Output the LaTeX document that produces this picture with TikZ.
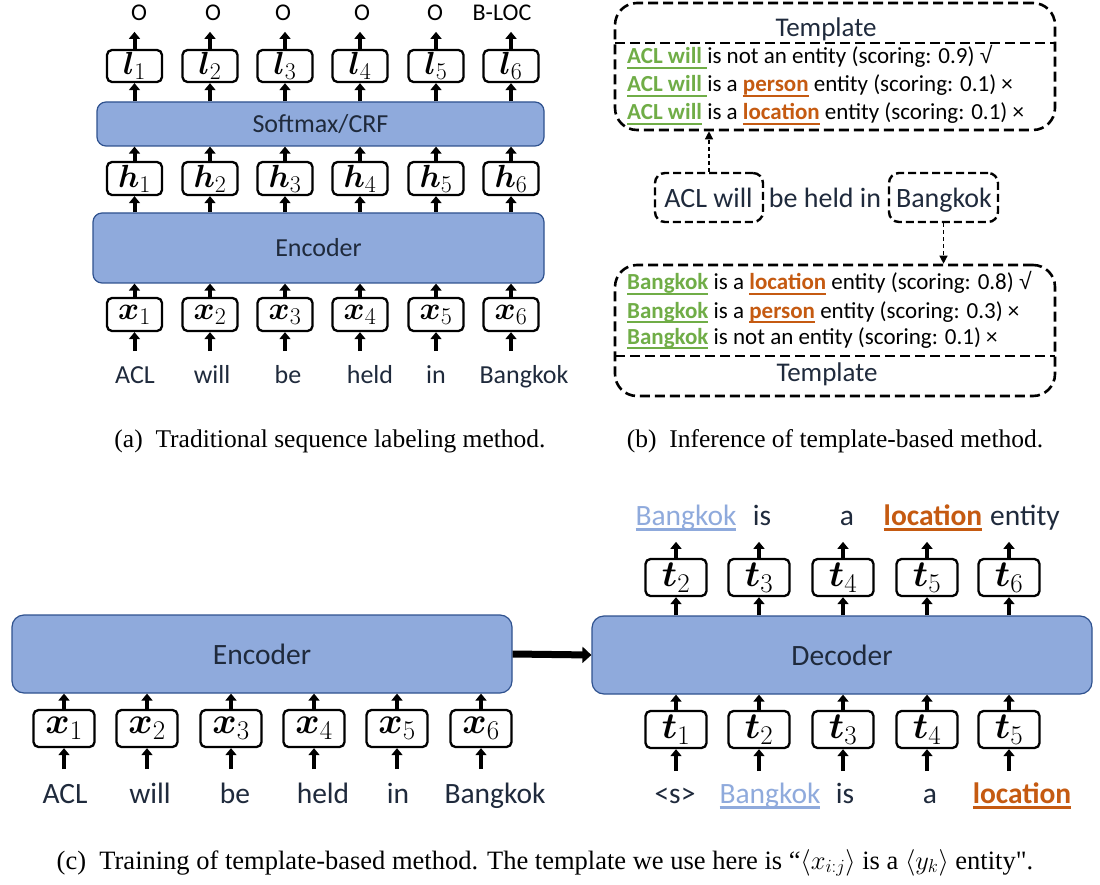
\RequirePackage{fix-cm}
\documentclass[tikz,border=0pt]{standalone}
\usepackage{amsmath,bm}
\usepackage{fontspec}
\setmainfont{Liberation Serif}
\newfontfamily\calf{Carlito}
\newfontfamily\symf{Liberation Sans}
\usetikzlibrary{arrows.meta}
\DeclareMathSizes{32}{32}{24}{18}
\DeclareMathSizes{37}{37}{27}{20}
\definecolor{bfill}{HTML}{8FAADC}
\definecolor{bline}{HTML}{2F528F}
\definecolor{grn}{HTML}{70AD47}
\definecolor{org}{HTML}{C55A11}
\definecolor{txt}{HTML}{1F2A3C}
\definecolor{lblue}{HTML}{8FAADC}
\newcommand{\ulc}[2]{{\color{#1}\setbox0=\hbox{#2}\rlap{\rule[-0.2em]{\wd0}{0.09em}}\box0}}
\begin{document}
\begin{tikzpicture}[x=1pt,y=-1pt,
  blk/.style={draw=bline, fill=bfill, line width=1.2pt, rounded corners=9pt, inner sep=0pt},
  tok/.style={draw=black, line width=2.3pt, rounded corners=5pt, fill=white, inner sep=0pt,
    minimum width=55pt, minimum height=32pt, font=\fontsize{32}{36}\selectfont},
  tokc/.style={tok, minimum width=61pt, minimum height=37pt, font=\fontsize{37}{40}\selectfont},
  arr/.style={line width=4pt, -{Triangle[length=7pt,width=11pt]}},
  bigarr/.style={line width=7pt, -{Triangle[length=9pt,width=16pt]}},
  dbox/.style={draw=black, line width=2.6pt, dash pattern=on 10pt off 5pt, inner sep=0pt},
  dline/.style={draw=black, line width=2.6pt, dash pattern=on 10pt off 5pt},
  darr/.style={line width=1.3pt, dash pattern=on 4pt off 3pt, -{Triangle[length=8pt,width=8pt]}},
  fa/.style={font=\calf\fontsize{26}{30}\selectfont, text=txt, inner sep=0pt, anchor=base},
  flab/.style={font=\calf\fontsize{24}{28}\selectfont, text=black, inner sep=0pt, anchor=base},
  fb/.style={font=\calf\fontsize{23}{27}\selectfont, text=black, inner sep=0pt, anchor=base west},
  ftpl/.style={font=\calf\fontsize{27}{32}\selectfont, text=txt, inner sep=0pt, anchor=base},
  fsen/.style={font=\calf\fontsize{28}{33}\selectfont, text=txt, inner sep=0pt, anchor=base},
  fc/.style={font=\calf\fontsize{29.5}{34}\selectfont, text=txt, inner sep=0pt, anchor=base},
  capt/.style={font=\fontsize{25.5}{30}\selectfont, text=black, inner sep=0pt, anchor=base}
]
\useasboundingbox (0,0) rectangle (1100,885);

% ---------------- (a) ----------------
\node[blk, minimum width=447pt, minimum height=44pt] (smx) at (320.5,124)
  {\calf\fontsize{26}{30}\selectfont\color{txt}Softmax/CRF};
\node[blk, minimum width=451pt, minimum height=70pt] (enca) at (318.5,248)
  {\calf\fontsize{26}{30}\selectfont\color{txt}Encoder};
\foreach \i/\xx in {1/134.5,2/210,3/285,4/360,5/436,6/511}{
  \node[tok] (l\i) at (\xx,66) {$\boldsymbol{l}_{\i}$};
  \node[tok, minimum height=33pt] (h\i) at (\xx,178.5) {$\boldsymbol{h}_{\i}$};
  \node[tok, minimum height=33pt] (xa\i) at (\xx,314.5) {$\boldsymbol{x}_{\i}$};
  \draw[arr] (l\i.north) -- ([yshift=17pt]l\i.north);
  \draw[arr] (l\i.south |- smx.north) -- (l\i.south);
  \draw[arr] (h\i.north) -- (h\i.north |- smx.south);
  \draw[arr] (h\i.south |- enca.north) -- (h\i.south);
  \draw[arr] (xa\i.north) -- (xa\i.north |- enca.south);
  \draw[arr] ([yshift=-19pt]xa\i.south) -- (xa\i.south);
}
\node[flab] (o1) at (139,21) {O};
\node[flab] (o2) at (213,21) {O};
\node[flab] (o3) at (283,21) {O};
\node[flab] (o4) at (362,21) {O};
\node[flab] (o5) at (435,21) {O};
\node[flab] (o6) at (502,21) {B-LOC};
\node[fa] (wa1) at (135,383) {ACL};
\node[fa] (wa2) at (212,383) {will};
\node[fa] (wa3) at (288,383) {be};
\node[fa] (wa4) at (370,383) {held};
\node[fa] (wa5) at (436,383) {in};
\node[fa] (wa6) at (524,383) {Bangkok};
\node[capt] (capa) at (330,447) {(a)\enspace Traditional sequence labeling method.};

% ---------------- (b) ----------------
\node[dbox, rounded corners=22pt, minimum width=440pt, minimum height=127pt] (tb) at (835,66.5) {};
\coordinate (tbl) at (615,43); \coordinate (tbr) at (1055,43);
\draw[dline] (tbl) -- (tbr);
\node[ftpl] (tplt) at (826,37) {Template};
\node[fb] (tl1) at (627,64) {\ulc{grn}{\bfseries ACL will }is not an entity (scoring: 0.9) {\symf √}};
\node[fb] (tl2) at (627,92) {\ulc{grn}{\bfseries ACL will }is a \ulc{org}{\bfseries person} entity (scoring: 0.1) ×};
\node[fb] (tl3) at (627,120) {\ulc{grn}{\bfseries ACL will} is a \ulc{org}{\bfseries location} entity (scoring: 0.1) ×};

\node[dbox, rounded corners=10pt, line width=2.4pt, dash pattern=on 8pt off 4pt,
  minimum width=108pt, minimum height=49pt] (aclbox) at (709,197.5) {};
\node[dbox, rounded corners=10pt, line width=2.4pt, dash pattern=on 8pt off 4pt,
  minimum width=109pt, minimum height=49pt] (bkbox) at (943.5,197.5) {};
\node[fsen] (s1) at (708.5,208) {ACL will};
\node[fsen] (s2) at (825,208) {be held in};
\node[fsen] (s3) at (944,208) {Bangkok};
\draw[darr] (aclbox.north) -- (aclbox.north |- tb.south);

\node[dbox, rounded corners=22pt, minimum width=440pt, minimum height=131pt] (bb) at (835,330.5) {};
\coordinate (bbl) at (615,356); \coordinate (bbr) at (1055,356);
\draw[dline] (bbl) -- (bbr);
\draw[darr] (bkbox.south) -- (bkbox.south |- bb.north);
\node[ftpl] (tplb) at (827,381) {Template};
\node[fb] (bl1) at (627,290) {\ulc{grn}{\bfseries Bangkok} is a \ulc{org}{\bfseries location} entity (scoring: 0.8) {\symf √}};
\node[fb] (bl2) at (627,318) {\ulc{grn}{\bfseries Bangkok} is a \ulc{org}{\bfseries person} entity (scoring: 0.3) ×};
\node[fb] (bl3) at (627,344) {\ulc{grn}{\bfseries Bangkok} is not an entity (scoring: 0.1) ×};
\node[capt] (capb) at (835,447) {(b)\enspace Inference of template-based method.};

% ---------------- (c) ----------------
\node[blk, rounded corners=12pt, minimum width=500pt, minimum height=78pt] (encc) at (262,654)
  {\calf\fontsize{29.5}{34}\selectfont\color{txt}Encoder};
\node[blk, rounded corners=12pt, minimum width=500pt, minimum height=78pt] (dec) at (842,655)
  {\calf\fontsize{29.5}{34}\selectfont\color{txt}Decoder};
\draw[bigarr] (encc.east) -- (dec.west);
\foreach \i/\xx in {1/64,2/147,3/231,4/314,5/397,6/481}{
  \node[tokc] (xc\i) at (\xx,728.5) {$\boldsymbol{x}_{\i}$};
  \draw[arr] (xc\i.north) -- (xc\i.north |- encc.south);
  \draw[arr] ([yshift=-21pt]xc\i.south) -- (xc\i.south);
}
\foreach \i/\j/\xx in {1/2/676,2/3/759,3/4/843,4/5/927,5/6/1009}{
  \node[tokc] (to\i) at (\xx,577.5) {$\boldsymbol{t}_{\j}$};
  \node[tokc] (ti\i) at (\xx,729.5) {$\boldsymbol{t}_{\i}$};
  \draw[arr] (to\i.north) -- ([yshift=16pt]to\i.north);
  \draw[arr] (to\i.south |- dec.north) -- (to\i.south);
  \draw[arr] (ti\i.north) -- (ti\i.north |- dec.south);
  \draw[arr] ([yshift=-22pt]ti\i.south) -- (ti\i.south);
}
\node[fc] (wc1) at (65,803) {ACL};
\node[fc] (wc2) at (150,803) {will};
\node[fc] (wc3) at (235,803) {be};
\node[fc] (wc4) at (323,803) {held};
\node[fc] (wc5) at (398,803) {in};
\node[fc] (wc6) at (495,803) {Bangkok};

\node[fc] (dt1) at (686,525) {\ulc{lblue}{Bangkok}};
\node[fc] (dt2) at (762,525) {is};
\node[fc] (dt3) at (847,525) {a};
\node[fc] (dt4) at (933,525) {\ulc{org}{\bfseries location}};
\node[fc] (dt5) at (1025,525) {entity};
\node[fc] (db1) at (675,803) {<s>};
\node[fc] (db2) at (770,803) {\ulc{lblue}{Bangkok}};
\node[fc] (db3) at (845,803) {is};
\node[fc] (db4) at (930,803) {a};
\node[fc] (db5) at (1022,803) {\ulc{org}{\bfseries location}};

\node[capt, font=\fontsize{26.5}{30}\selectfont] (capc) at (545,869) {(c)\enspace Training of template-based method. The template we use here is “$\langle x_{i:j}\rangle$ is a $\langle y_k\rangle$ entity\textquotedbl.};
\end{tikzpicture}
\end{document}
